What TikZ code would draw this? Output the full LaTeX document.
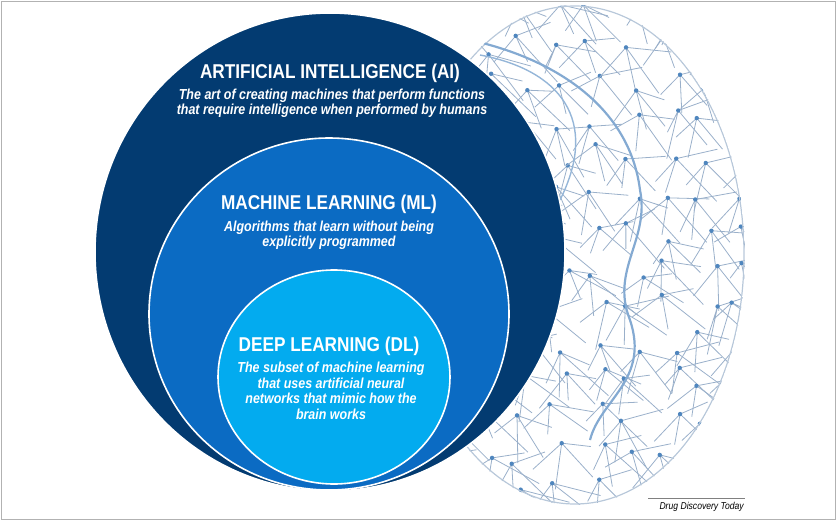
\documentclass[tikz,border=0pt]{standalone}
\usepackage{fontspec}
\usetikzlibrary{shapes.geometric}
\setmainfont{Liberation Sans}
\definecolor{aic}{HTML}{033B71}
\definecolor{mlc}{HTML}{0B6BC3}
\definecolor{dlc}{HTML}{03ABEF}
\definecolor{netc}{HTML}{9AB0CA}
\definecolor{dotc}{HTML}{4F86BE}
\newcommand{\cnd}[1]{\scalebox{0.86}[1]{#1}}
\begin{document}
\begin{tikzpicture}[x=1pt,y=-1pt,
  ring/.style={draw=white,line width=1.6pt},
  ttl/.style={text=white,font=\bfseries\fontsize{20}{24}\selectfont,align=center},
  sub/.style={text=white,font=\bfseries\itshape\fontsize{14.5}{15.5}\selectfont,align=center}]
\useasboundingbox (0,0) rectangle (836,520);
\draw[gray!60,line width=0.8pt] (1,1) rectangle (835,519);
% network sphere
\begin{scope}
\clip (575,255) ellipse [x radius=170,y radius=250];
\pgfmathsetseed{11}
\foreach \gx in {0,...,9}{
 \foreach \gy in {0,...,13}{
  \pgfmathsetmacro{\px}{410+\gx*37+rand*12}
  \pgfmathsetmacro{\py}{8+\gy*37+rand*12}
  \pgfmathsetmacro{\ax}{\px+37+rand*12}\pgfmathsetmacro{\ay}{\py+rand*15}
  \pgfmathsetmacro{\bx}{\px+rand*15}\pgfmathsetmacro{\by}{\py+37+rand*12}
  \pgfmathsetmacro{\cx}{\px+37+rand*12}\pgfmathsetmacro{\cy}{\py+37+rand*12}
  \pgfmathsetmacro{\dx}{\px-20+rand*10}\pgfmathsetmacro{\dy}{\py+25+rand*10}
  \draw[netc,line width=0.8pt] (\ax,\ay) -- (\px,\py) -- (\bx,\by) (\px,\py) -- (\cx,\cy) (\px,\py) -- (\dx,\dy);
  \fill[dotc] (\px,\py) circle (2.2);
 }}
\draw[netc!70,line width=1.2pt] (575,255) ellipse [x radius=169,y radius=249];
\draw[dotc!70!white,line width=2.2pt] (470,40) .. controls (560,60) and (630,110) .. (640,190)
  .. controls (650,240) and (610,270) .. (630,320) .. controls (650,380) and (600,400) .. (590,440);
\draw[dotc!60!white,line width=1.4pt] (480,55) .. controls (560,70) and (600,120) .. (560,200);
\end{scope}
% nested circles
\node[ring,fill=aic,ellipse,minimum width=470,minimum height=478,inner sep=0] (ai) at (330,252) {};
\node[ring,fill=mlc,ellipse,minimum width=360,minimum height=352,inner sep=0] (ml) at (329,314) {};
\node[ring,fill=dlc,ellipse,minimum width=232,minimum height=214,inner sep=0] (dl) at (334,377) {};
\node[ttl] (ait) at (330,73) {\cnd{ARTIFICIAL INTELLIGENCE (AI)}};
\node[sub] (ais) at (332,103) {\cnd{The art of creating machines that perform functions}\\\cnd{that require intelligence when performed by humans}};
\node[ttl] (mlt) at (329,204) {\cnd{MACHINE LEARNING (ML)}};
\node[sub] (mls) at (329,235) {\cnd{Algorithms that learn without being}\\\cnd{explicitly programmed}};
\node[ttl] (dlt) at (329,346) {\cnd{DEEP LEARNING (DL)}};
\node[sub] (dls) at (331,391) {\cnd{The subset of machine learning}\\\cnd{that uses artificial neural}\\\cnd{networks that mimic how the}\\\cnd{brain works}};
\draw[gray,line width=0.5pt] (648,498) -- (745,498);
\node[font=\itshape\fontsize{10}{12}\selectfont,anchor=east,inner sep=0] (ddt) at (744,507) {\cnd{Drug Discovery Today}};
\end{tikzpicture}
\end{document}
